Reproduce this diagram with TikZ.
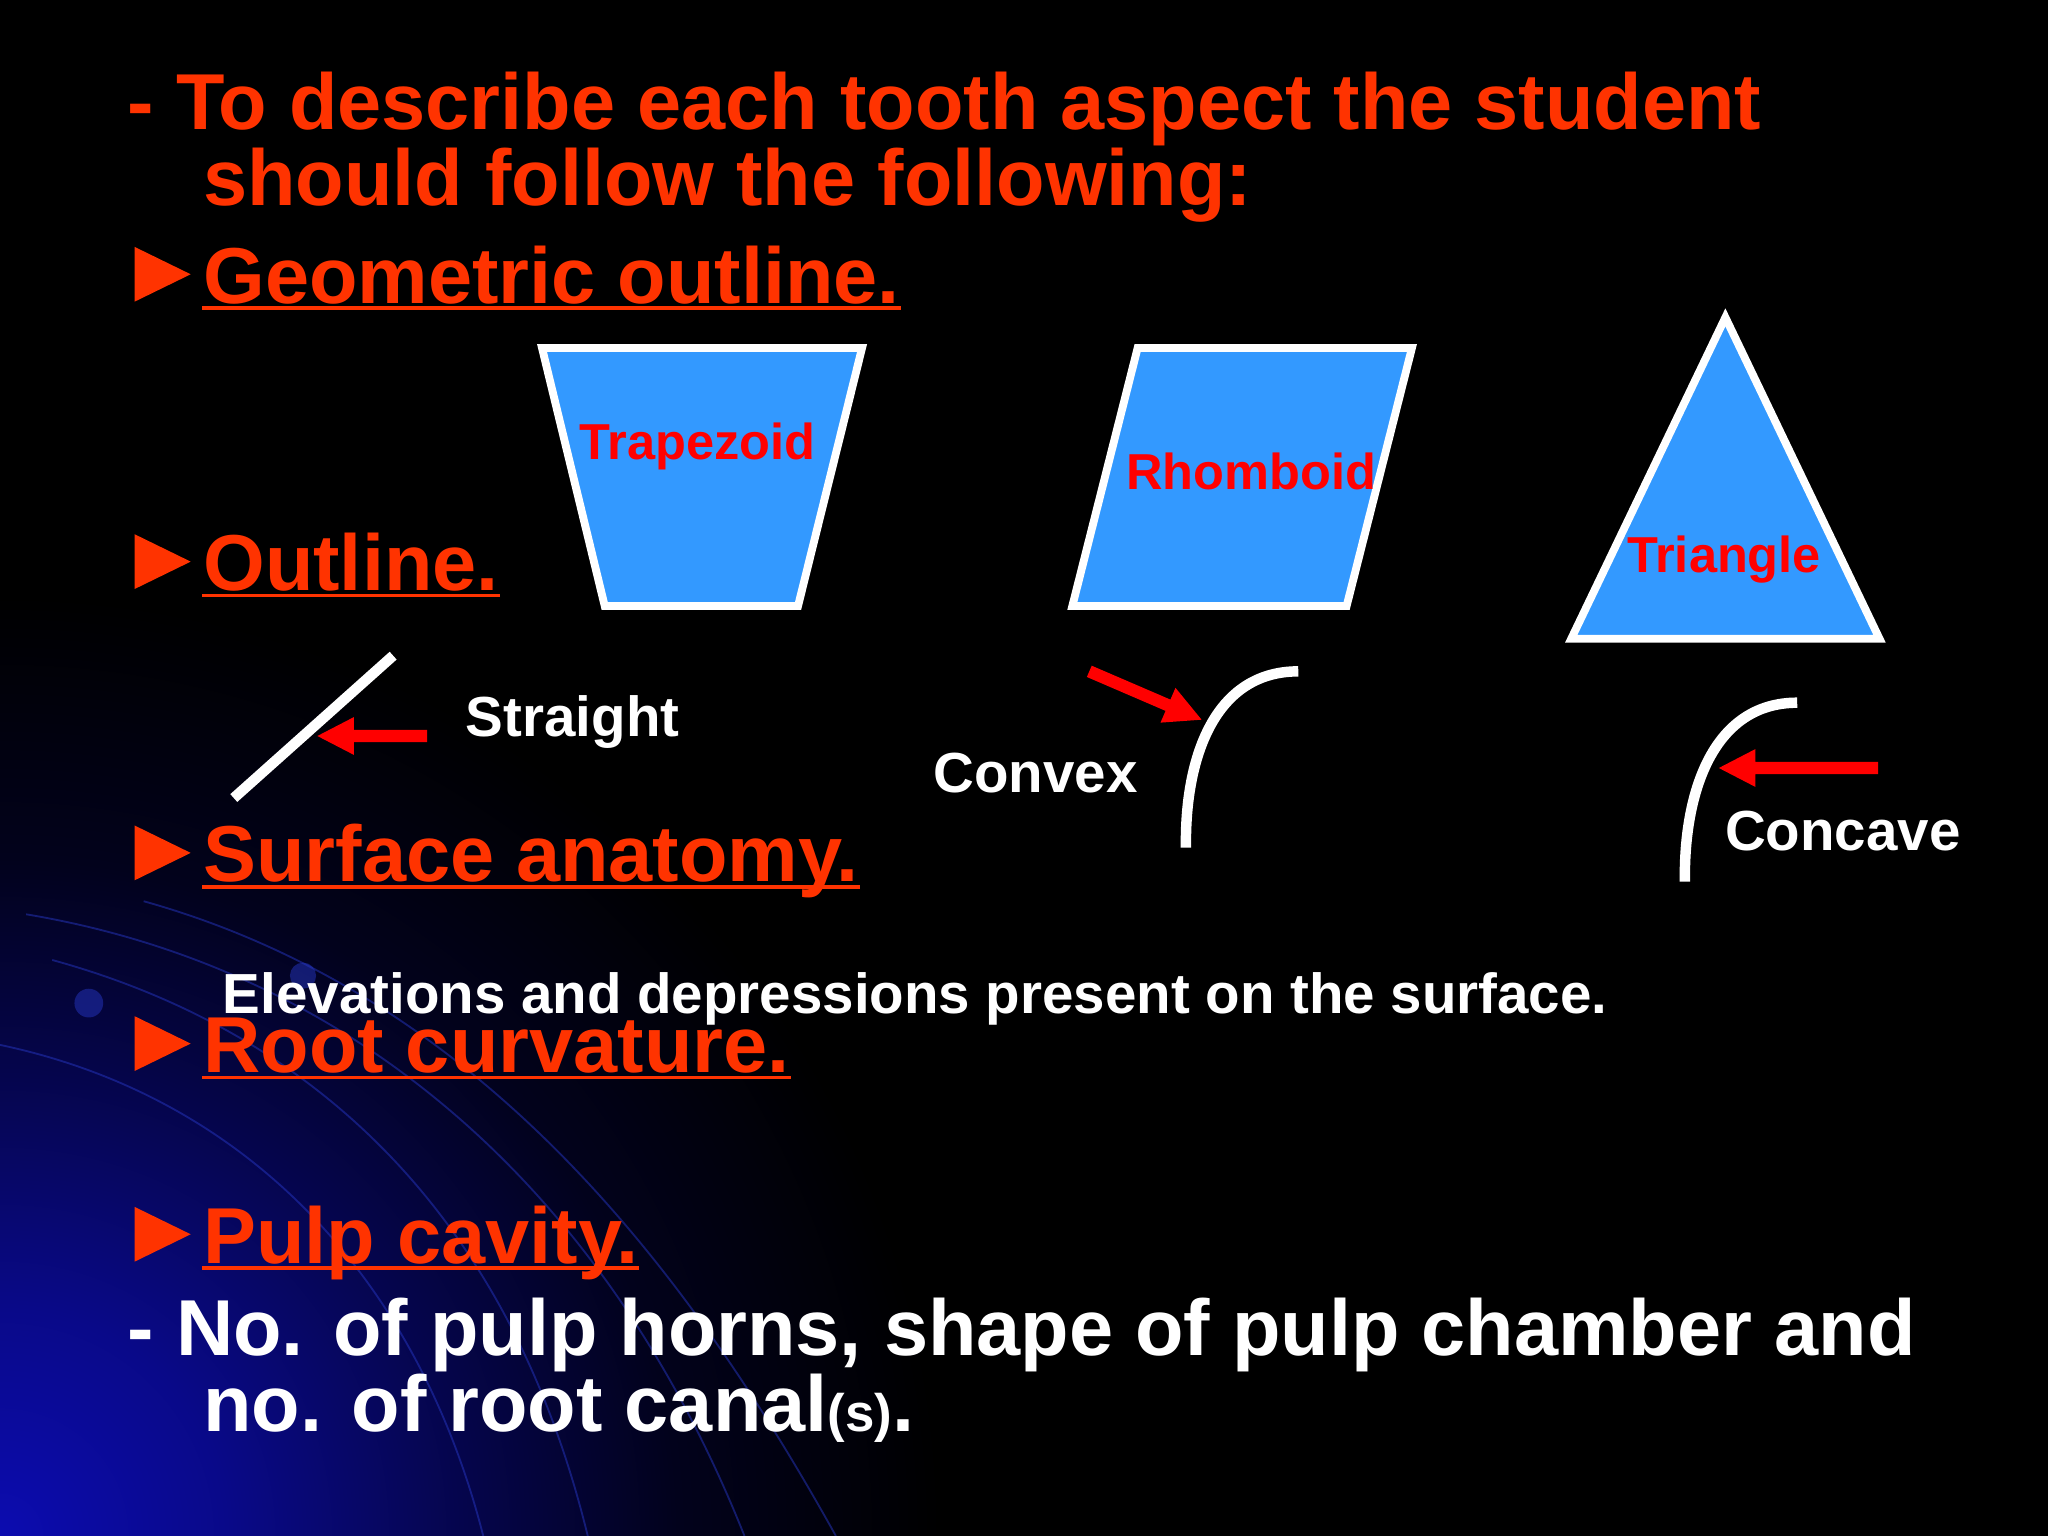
\documentclass[tikz,border=0pt]{standalone}
\usepackage{fontspec}
\setmainfont{Liberation Sans}
\definecolor{orng}{HTML}{FF3300}
\definecolor{shpblue}{HTML}{3399FF}
\definecolor{arrred}{HTML}{FF0000}
\definecolor{glowblue}{HTML}{0C0CB0}
\definecolor{arcblue}{HTML}{2535C0}
\pgfdeclareradialshading{glow}{\pgfpoint{0bp}{0bp}}{color(0bp)=(glowblue); color(6bp)=(glowblue!78!black); color(12bp)=(glowblue!45!black); color(18bp)=(glowblue!16!black); color(25bp)=(black); color(50bp)=(black)}
\newcommand\tribul[1]{\fill[orng] (103,#1-43) -- (146,#1-22) -- (103,#1-1) -- cycle;}
\newcommand\blockarrow[4]{\fill[arrred, shift={(#1,#2)}, rotate=#3] (0,-4.7) -- (#4-28,-4.7) -- (#4-28,-14.5) -- (#4,0) -- (#4-28,14.5) -- (#4-28,4.7) -- (0,4.7) -- cycle;}
\tikzset{
  big/.style={font=\fontsize{17.27}{20}\selectfont\bfseries, inner sep=0pt, anchor=base west},
  hd/.style={big, text=orng},
  wt/.style={big, text=white},
  mid/.style={font=\fontsize{12.3}{14}\selectfont\bfseries, inner sep=0pt, anchor=base west, text=white},
  lab/.style={font=\fontsize{11.0}{13}\selectfont\bfseries, inner sep=0pt, anchor=base, text=arrred},
  shp/.style={fill=shpblue, draw=white, line width=0.06cm, line join=miter},
  ul/.style={orng, line width=0.027cm},
  curve/.style={white, line width=0.08cm}
}
\newcommand\uline[1]{\draw[ul] ([yshift=-4*0.01cm]#1.base west) -- ([yshift=-4*0.01cm]#1.base east);}
\begin{document}
\begin{tikzpicture}[x=0.01cm, y=-0.01cm]
\useasboundingbox (0,0) rectangle (1568,1176);
\fill[black] (0,0) rectangle (1568,1176);
\begin{scope}
  \clip (0,0) rectangle (1568,1176);
  \shade[shading=glow] (0,1176) circle (720);
  \begin{scope}[arcblue, line width=0.014cm, opacity=0.5]
    \draw (20,700) .. controls (260,740) and (460,900) .. (570,1176);
    \draw (40,735) .. controls (240,790) and (390,930) .. (450,1176);
    \draw (0,800) .. controls (190,840) and (320,980) .. (370,1176);
    \draw (110,690) .. controls (360,760) and (520,960) .. (640,1176);
    \fill (68,768) circle (11);
    \fill (232,747) circle (10);
  \end{scope}
\end{scope}

% heading
\node[hd] (t1) at (97,99) {- To describe each tooth aspect the student};
\node[hd] (t2) at (155,157) {should follow the following:};

% bullets
\tribul{232}
\node[hd] (geo) at (155,232) {Geometric outline.};
\uline{geo}
\tribul{452}
\node[hd] (outl) at (155,452) {Outline.};
\uline{outl}
\tribul{675}
\node[hd] (surf) at (155,675) {Surface anatomy.};
\uline{surf}
\tribul{821}
\node[hd] (root) at (155,821) {Root curvature.};
\uline{root}
\tribul{967}
\node[hd] (pulp) at (155,967) {Pulp cavity.};
\uline{pulp}

\node[mid] (elev) at (170,776) {Elevations and depressions present on the surface.};

\node[wt] (n1) at (97,1038) {- No. of pulp horns, shape of pulp chamber and};
\node[wt] (n2) at (155,1096) {no. of root canal{\fontsize{11.5}{12}\selectfont(s)}.};

% shapes
\draw[shp] (415,266.5) -- (660,266.5) -- (611,464) -- (463,464) -- cycle;
\node[lab] (trap) at (534,352) {Trapezoid};
\draw[shp] (871,266.5) -- (1081,266.5) -- (1031,464) -- (821,464) -- cycle;
\node[lab] (rhom) at (958,375) {Rhomboid};
\draw[shp] (1321,243) -- (1439,489) -- (1203,489) -- cycle;
\node[lab] (tri) at (1320,438) {Triangle};

% outlines
\draw[white, line width=0.08cm] (179,611) -- (301,502);
\blockarrow{327}{563.5}{180}{84}
\node[mid] (str) at (356,564) {Straight};

\draw[curve] (908,649) .. controls (907,580) and (930,514) .. (994,514);
\blockarrow{834}{514}{-23.3}{93.6}
\node[mid] (cvx) at (714,607) {Convex};

\draw[curve] (1290,675) .. controls (1289,606) and (1312,538) .. (1376,538);
\blockarrow{1438}{588}{180}{122}
\node[mid] (ccv) at (1320,651) {Concave};
\end{tikzpicture}
\end{document}
